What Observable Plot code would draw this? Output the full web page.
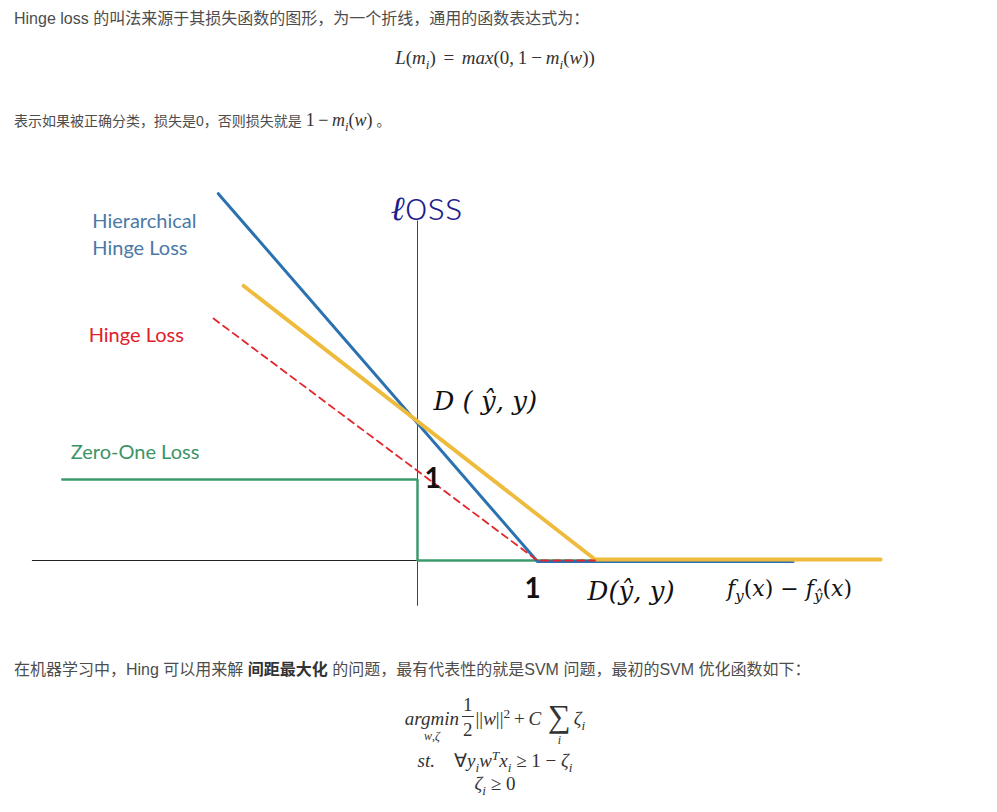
<!DOCTYPE html>
<html>
<head>
<meta charset="utf-8">
<script src="https://cdn.jsdelivr.net/npm/d3@7"></script>
<script src="https://cdn.jsdelivr.net/npm/@observablehq/plot@0.6"></script>
<style>
  html, body { margin: 0; padding: 0; background: #fff; }
  body { width: 997px; height: 812px; position: relative; overflow: hidden;
         font-family: "Liberation Sans", "Noto Sans CJK SC", sans-serif; color: #4d4d4d; }
  .p { position: absolute; left: 14px; white-space: nowrap; }
  .math { font-family: "Liberation Serif", serif; color: #333; }
  .math i { font-style: italic; }
  .row { position: absolute; left: 0; width: 990px; text-align: center; white-space: nowrap; }
  #chart { position: absolute; left: 0; top: 150px; }
  sub, sup { font-size: 70%; line-height: 0; }
  .eq1 { position: absolute; left: 0; top: 694px; width: 990px; height: 50px; display: flex;
         justify-content: center; align-items: flex-start; font-size: 19px; white-space: nowrap; }
  .eq1 > span { display: block; line-height: 22px; }
  .lo { display: block; font-size: 12px; line-height: 12px; text-align: center; }
  .frac { text-align: center; margin: 0 2px 0 3px; }
  .frac .num { display: block; border-bottom: 1px solid #333; line-height: 22px; padding: 0 1px; }
  .frac .den { display: block; line-height: 22px; padding-top: 2px; }
</style>
</head>
<body>
<div class="p" style="top:8px;font-size:16px;line-height:22px;">Hinge loss 的叫法来源于其损失函数的图形，为一个折线，通用的函数表达式为：</div>
<div class="row math" style="top:47px;font-size:19px;line-height:22px;"><i>L</i>(<i>m<sub>i</sub></i>)&thinsp;&thinsp;=&thinsp;&thinsp;<i>max</i>(0,&thinsp;1&thinsp;−&thinsp;<i>m<sub>i</sub></i>(<i>w</i>))</div>
<div class="p" style="top:110px;font-size:14px;line-height:20px;">表示如果被正确分类，损失是0，否则损失就是 <span class="math" style="font-size:18px;">1&thinsp;−&thinsp;<i>m<sub>i</sub></i>(<i>w</i>)</span> 。</div>
<div id="chart"></div>
<div class="p" style="top:659px;font-size:16px;line-height:22px;">在机器学习中，Hing 可以用来解 <b style="color:#333">间距最大化</b> 的问题，最有代表性的就是SVM 问题，最初的SVM 优化函数如下：</div>
<div class="eq1 math">
  <span style="padding-top:14px;"><i>argmin</i><span class="lo"><i>w</i>,<i>ζ</i></span></span>
  <span class="frac"><span class="num">1</span><span class="den">2</span></span>
  <span style="padding-top:14px;">||<i>w</i>||<sup>2</sup>&thinsp;+&thinsp;<i>C</i>&thinsp;</span>
  <span style="padding-top:7px;margin:0 3px;"><span style="display:block;font-size:32px;line-height:30px;text-align:center;">∑</span><span class="lo" style="margin-top:3px;"><i>i</i></span></span>
  <span style="padding-top:14px;"><i>ζ<sub>i</sub></i></span>
</div>
<div class="row math" style="top:751px;font-size:19px;line-height:20px;"><i>st.</i>&nbsp;&nbsp;&nbsp;&nbsp;∀<i>y<sub>i</sub>w<sup>T</sup>x<sub>i</sub></i> ≥ 1 − <i>ζ<sub>i</sub></i></div>
<div class="row math" style="top:774px;font-size:19px;line-height:20px;"><i>ζ<sub>i</sub></i> ≥ 0</div>

<script>
// ---- data (in loss-plot units) ----
const hierX  = [-1.66, 1.0, 3.13];
const hierY  = [4.18, 0, 0];
const hingeX = [-1.70, 1.0, 1.48];
const hingeY = [2.75, 0, 0];
const marginX = [-1.45, 1.48, 3.86];
const marginY = [3.11, 0, 0];
const zeroOneX = [-2.96, 0, 0, 1.0, 3.13];
const zeroOneY = [0.92, 0.92, 0, 0, 0];
const axisXExtent = [-3.21, 3.13];
const axisYExtent = [-0.51, 3.86];
const legendLabels = ["Hierarchical\nHinge Loss", "Hinge Loss", "Zero-One Loss"];
const tickLabels = ["1", "1"];
const axisTitles = ["ℓoss", "D ( ŷ, y)", "D(ŷ, y)", "fy(x) − fŷ(x)"];

const pts = (xs, ys) => xs.map((x, i) => ({x, y: ys[i]}));
const sans = "Lato, 'Open Sans', sans-serif";
const serif = "'DejaVu Serif', serif";

const chart = Plot.plot({
  width: 997,
  height: 480,
  x: {domain: [0, 1], range: [417, 537], axis: null},
  y: {domain: [0, 1], range: [410, 322], axis: null},
  style: {background: "transparent", overflow: "visible"},
  marks: [
    // axes
    Plot.line(pts(axisXExtent, [0, 0]), {x: "x", y: "y", stroke: "#222", strokeWidth: 1}),
    Plot.line(pts([0, 0], axisYExtent), {x: "x", y: "y", stroke: "#444", strokeWidth: 1}),
    // curves
    Plot.line(pts(zeroOneX, zeroOneY), {x: "x", y: "y", stroke: "#3d9a6d", strokeWidth: 2.5, strokeLinejoin: "miter"}),
    Plot.line(pts(hierX, hierY), {x: "x", y: "y", stroke: "#2c72b0", strokeWidth: 3, dy: 1}),
    Plot.line(pts(marginX, marginY), {x: "x", y: "y", stroke: "#eebb3c", strokeWidth: 3.8, dy: -1}),
    Plot.line(pts(hingeX, hingeY), {x: "x", y: "y", stroke: "#e3262b", strokeWidth: 1.8, strokeDasharray: "7,5"}),
    // legend labels
    Plot.text([legendLabels[0]], {x: -2.71, y: 3.72, text: d => d, textAnchor: "start", lineHeight: 1.36,
      fill: "#4a79a6", fontSize: 20, fontFamily: sans}),
    Plot.text([legendLabels[1]], {x: -2.74, y: 2.56, text: d => d, textAnchor: "start",
      fill: "#e0202a", fontSize: 20, fontFamily: sans}),
    Plot.text([legendLabels[2]], {x: -2.89, y: 1.227, text: d => d, textAnchor: "start",
      fill: "#3a9468", fontSize: 20, fontFamily: sans}),
    // axis title
    Plot.text([axisTitles[0]], {x: -0.225, y: 3.86, text: d => d, textAnchor: "start", lineAnchor: "bottom", dy: -1,
      fill: "#1c1c8e", fontSize: 41, fontWeight: 300, fontFamily: sans, className: "losslabel"}),
    // tick labels
    Plot.text([tickLabels[0]], {x: 0.125, y: 0.93, text: d => d, fill: "#111", fontSize: 28, fontWeight: "bold", fontFamily: sans}),
    Plot.text([tickLabels[1]], {x: 0.96, y: -0.32, text: d => d, fill: "#111", fontSize: 28, fontWeight: "bold", fontFamily: sans}),
    // math annotations
    Plot.text([axisTitles[1]], {x: 0.133, y: 1.81, text: d => d, textAnchor: "start", fill: "#111",
      fontSize: 26, fontStyle: "italic", fontFamily: serif}),
    Plot.text([axisTitles[2]], {x: 1.417, y: -0.35, text: d => d, textAnchor: "start", fill: "#111",
      fontSize: 26, fontStyle: "italic", fontFamily: serif}),
    Plot.text([axisTitles[3]], {x: 2.58, y: -0.32, text: d => d, textAnchor: "start", fill: "#111",
      fontSize: 22, fontFamily: serif, className: "fexpr"})
  ]
});
document.getElementById("chart").appendChild(chart);

// subscripts and the script ell as tspans (text stays real text)
(function () {
  const NS = "http://www.w3.org/2000/svg";
  const t = chart.querySelector("g.fexpr text");
  if (t) {
    const parts = [["f", 1, 0], ["y", 1, 1], ["(", 0, 0], ["x", 1, 0], [") − ", 0, 0],
                   ["f", 1, 0], ["ŷ", 1, 1], ["(", 0, 0], ["x", 1, 0], [")", 0, 0]];
    t.textContent = "";
    let prevSub = false;
    for (const [s, it, sub] of parts) {
      const ts = document.createElementNS(NS, "tspan");
      ts.textContent = s;
      if (it) ts.setAttribute("font-style", "italic");
      if (sub) { ts.setAttribute("font-size", "15"); ts.setAttribute("dy", "5"); }
      else if (prevSub) ts.setAttribute("dy", "-5");
      prevSub = !!sub;
      t.appendChild(ts);
    }
  }
  const l = chart.querySelector("g.losslabel text");
  if (l) {
    l.textContent = "";
    const a = document.createElementNS(NS, "tspan");
    a.textContent = "ℓ"; a.setAttribute("font-style", "italic");
    a.setAttribute("font-family", "'DejaVu Serif', serif"); a.setAttribute("font-size", "34");
    a.setAttribute("font-weight", "normal");
    const b = document.createElementNS(NS, "tspan");
    b.textContent = "oss";
    l.appendChild(a); l.appendChild(b);
  }
})();
</script>
</body>
</html>
